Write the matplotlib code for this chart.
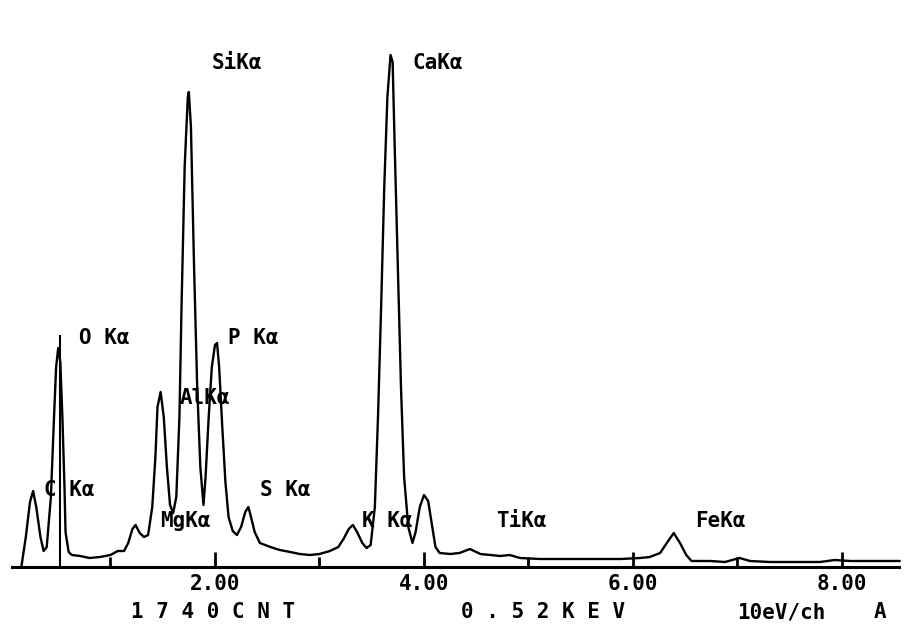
import numpy as np
import matplotlib
matplotlib.use("Agg")
import matplotlib.pyplot as plt

# EDS spectrum: energy (keV) and counts (arbitrary units)
energy_kev = [0.15, 0.19, 0.23, 0.26, 0.29, 0.33, 0.36, 0.39, 0.43, 0.46,
              0.48, 0.50, 0.52, 0.54, 0.56, 0.57, 0.60, 0.63, 0.71, 0.80,
              0.90, 1.00, 1.07, 1.13, 1.17, 1.21, 1.24, 1.28, 1.32, 1.36,
              1.40, 1.43, 1.45, 1.48, 1.51, 1.54, 1.57, 1.60, 1.63, 1.66,
              1.68, 1.71, 1.74, 1.75, 1.77, 1.80, 1.83, 1.86, 1.89, 1.91,
              1.94, 1.97, 2.00, 2.02, 2.04, 2.07, 2.10, 2.13, 2.17, 2.21,
              2.25, 2.29, 2.32, 2.34, 2.38, 2.43, 2.53, 2.62, 2.72, 2.81,
              2.91, 3.00, 3.10, 3.18, 3.23, 3.28, 3.32, 3.36, 3.41, 3.45,
              3.49, 3.53, 3.56, 3.59, 3.62, 3.65, 3.68, 3.70, 3.72, 3.75,
              3.78, 3.81, 3.85, 3.89, 3.92, 3.96, 4.00, 4.04, 4.08, 4.11,
              4.15, 4.25, 4.34, 4.44, 4.54, 4.63, 4.73, 4.82, 4.92, 5.11,
              5.30, 5.49, 5.68, 5.88, 6.07, 6.16, 6.26, 6.33, 6.39, 6.45,
              6.51, 6.56, 6.74, 6.88, 7.02, 7.12, 7.31, 7.60, 7.79, 7.93,
              8.08, 8.27, 8.55]
counts = [2, 30, 65, 76, 60, 30, 16, 20, 70, 150,
          200, 219, 205, 150, 80, 35, 15, 12, 11, 9,
          10, 12, 16, 16, 24, 38, 42, 34, 30, 32,
          60, 110, 160, 175, 150, 100, 62, 54, 70, 150,
          260, 400, 470, 475, 440, 300, 180, 100, 62, 90,
          150, 200, 222, 224, 200, 140, 85, 50, 36, 32,
          40, 55, 60, 52, 35, 24, 20, 17, 15, 13,
          12, 13, 16, 20, 28, 38, 42, 35, 24, 19,
          22, 60, 150, 260, 380, 470, 512, 505, 420, 300,
          180, 90, 40, 24, 35, 60, 72, 66, 40, 20,
          14, 13, 14, 18, 13, 12, 11, 12, 9, 8,
          8, 8, 8, 8, 9, 10, 14, 25, 34, 24,
          12, 6, 6, 5, 9, 6, 5, 5, 5, 7,
          6, 6, 6]

cursor_kev = 0.52
cursor_height = 232

major_ticks = [2, 4, 6, 8]
minor_ticks = [1, 3, 5, 7]
tick_labels = ["2.00", "4.00", "6.00", "8.00"]

# line labels: text, energy position, count position
line_labels = ["SiKα", "CaKα", "O Kα", "P Kα", "AlKα", "C Kα",
               "S Kα", "MgKα", "K Kα", "TiKα", "FeKα"]
label_kev = [2.21, 4.13, 0.94, 2.37, 1.90, 0.61, 2.67, 1.72, 3.65, 4.93, 6.84]
label_cnt = [504, 504, 229, 229, 169, 77, 77, 46, 46, 46, 46]

footer = ["1 7 4 0 C N T", "0 . 5 2 K E V", "10eV/ch", "A"]
footer_kev = [1.98, 5.14, 7.42, 8.36]

fnt = dict(family="DejaVu Sans Mono", fontweight="bold", fontsize=15)

fig = plt.figure(figsize=(9.05, 6.4), dpi=100)
ax = fig.add_axes([0, 0, 1, 1])
ax.set_xlim(-0.057, 8.603)
ax.set_ylim(-73, 567)

ax.plot(energy_kev, counts, color="black", linewidth=1.7)
ax.vlines(cursor_kev, 0, cursor_height, color="black", linewidth=1.5)

for s in ["top", "right", "left"]:
    ax.spines[s].set_visible(False)
ax.spines["bottom"].set_position(("data", 0))
ax.spines["bottom"].set_bounds(0.06, 8.55)
ax.spines["bottom"].set_linewidth(2.2)
ax.set_yticks([])
ax.set_xticks(major_ticks)
ax.set_xticklabels(tick_labels, **fnt)
ax.set_xticks(minor_ticks, minor=True)
ax.tick_params(axis="x", which="major", direction="in", length=11, width=2, pad=5)
ax.tick_params(axis="x", which="minor", direction="in", length=7, width=2)

for txt, xk, yc in zip(line_labels, label_kev, label_cnt):
    ax.text(xk, yc, txt, ha="center", va="center", **fnt)

for txt, xk in zip(footer, footer_kev):
    ax.text(xk, -45, txt, ha="center", va="center", **fnt)

fig.savefig("out.png", dpi=100)
